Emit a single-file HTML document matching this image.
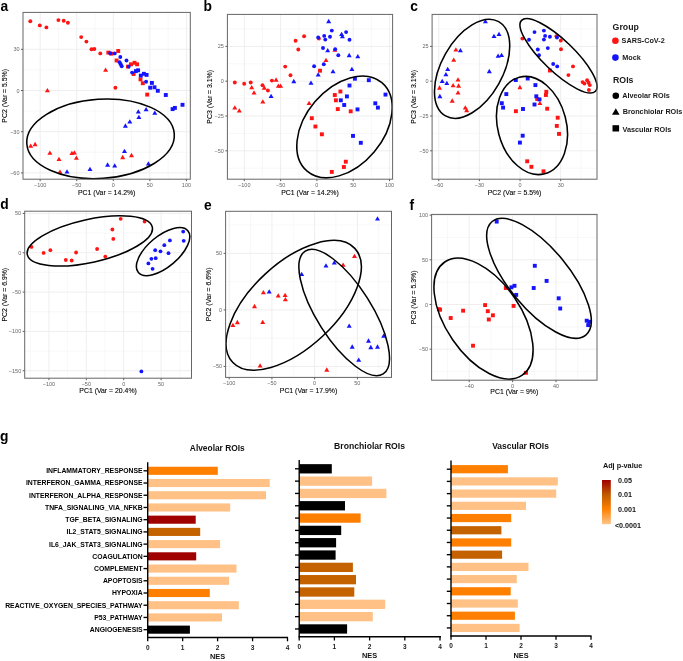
<!DOCTYPE html><html><head><meta charset="utf-8"><style>html,body{margin:0;padding:0;background:#fff;width:683px;height:661px;overflow:hidden}svg{display:block;will-change:transform;filter:blur(0.3px)}text{font-family:"Liberation Sans",sans-serif}.tk{font-size:5.5px;fill:#666}.at{font-size:6.9px;fill:#000;stroke:#000;stroke-width:0.1px}.pl{font-size:13.8px;font-weight:bold;fill:#000}.lg{font-size:7.25px;font-weight:bold;fill:#1a1a1a}.lt{font-size:8.75px;font-weight:bold;fill:#1a1a1a}.bl{font-size:6.85px;font-weight:bold;fill:#000}.bt{font-size:8.3px;font-weight:bold;fill:#111}.bx{font-size:6.5px;font-weight:bold;fill:#1a1a1a}</style></head><body>
<svg width="683" height="661" viewBox="0 0 683 661">
<g>
<line x1="58.44" y1="12.4" x2="58.44" y2="179.2" stroke="#f5f5f5" stroke-width="0.7"/>
<line x1="95.01" y1="12.4" x2="95.01" y2="179.2" stroke="#f5f5f5" stroke-width="0.7"/>
<line x1="131.59" y1="12.4" x2="131.59" y2="179.2" stroke="#f5f5f5" stroke-width="0.7"/>
<line x1="168.16" y1="12.4" x2="168.16" y2="179.2" stroke="#f5f5f5" stroke-width="0.7"/>
<line x1="23" y1="28.7" x2="190.3" y2="28.7" stroke="#f5f5f5" stroke-width="0.7"/>
<line x1="23" y1="69.9" x2="190.3" y2="69.9" stroke="#f5f5f5" stroke-width="0.7"/>
<line x1="23" y1="111.1" x2="190.3" y2="111.1" stroke="#f5f5f5" stroke-width="0.7"/>
<line x1="23" y1="152.3" x2="190.3" y2="152.3" stroke="#f5f5f5" stroke-width="0.7"/>
<line x1="40.15" y1="12.4" x2="40.15" y2="179.2" stroke="#eeeeee" stroke-width="1"/>
<line x1="76.72" y1="12.4" x2="76.72" y2="179.2" stroke="#eeeeee" stroke-width="1"/>
<line x1="113.3" y1="12.4" x2="113.3" y2="179.2" stroke="#eeeeee" stroke-width="1"/>
<line x1="149.88" y1="12.4" x2="149.88" y2="179.2" stroke="#eeeeee" stroke-width="1"/>
<line x1="186.45" y1="12.4" x2="186.45" y2="179.2" stroke="#eeeeee" stroke-width="1"/>
<line x1="23" y1="49.3" x2="190.3" y2="49.3" stroke="#eeeeee" stroke-width="1"/>
<line x1="23" y1="90.5" x2="190.3" y2="90.5" stroke="#eeeeee" stroke-width="1"/>
<line x1="23" y1="131.7" x2="190.3" y2="131.7" stroke="#eeeeee" stroke-width="1"/>
<line x1="23" y1="172.9" x2="190.3" y2="172.9" stroke="#eeeeee" stroke-width="1"/>
</g>
<line x1="40.15" y1="179.2" x2="40.15" y2="181.2" stroke="#333" stroke-width="0.8"/>
<text x="40.15" y="187.2" class="tk" text-anchor="middle">−100</text>
<line x1="76.72" y1="179.2" x2="76.72" y2="181.2" stroke="#333" stroke-width="0.8"/>
<text x="76.72" y="187.2" class="tk" text-anchor="middle">−50</text>
<line x1="113.3" y1="179.2" x2="113.3" y2="181.2" stroke="#333" stroke-width="0.8"/>
<text x="113.3" y="187.2" class="tk" text-anchor="middle">0</text>
<line x1="149.88" y1="179.2" x2="149.88" y2="181.2" stroke="#333" stroke-width="0.8"/>
<text x="149.88" y="187.2" class="tk" text-anchor="middle">50</text>
<line x1="186.45" y1="179.2" x2="186.45" y2="181.2" stroke="#333" stroke-width="0.8"/>
<text x="186.45" y="187.2" class="tk" text-anchor="middle">100</text>
<line x1="21" y1="49.3" x2="23" y2="49.3" stroke="#333" stroke-width="0.8"/>
<text x="19.5" y="51.3" class="tk" text-anchor="end">30</text>
<line x1="21" y1="90.5" x2="23" y2="90.5" stroke="#333" stroke-width="0.8"/>
<text x="19.5" y="92.5" class="tk" text-anchor="end">0</text>
<line x1="21" y1="131.7" x2="23" y2="131.7" stroke="#333" stroke-width="0.8"/>
<text x="19.5" y="133.7" class="tk" text-anchor="end">−30</text>
<line x1="21" y1="172.9" x2="23" y2="172.9" stroke="#333" stroke-width="0.8"/>
<text x="19.5" y="174.9" class="tk" text-anchor="end">−60</text>
<text x="106.65" y="194.6" class="at" text-anchor="middle">PC1 (Var = 14.2%)</text>
<text transform="translate(7.1 95.8) rotate(-90)" class="at" text-anchor="middle">PC2 (Var = 5.5%)</text>
<text x="0.5" y="10.9" class="pl">a</text>
<circle cx="30.3" cy="21.2" r="1.95" fill="#ff1414"/>
<circle cx="39.8" cy="25.4" r="1.95" fill="#ff1414"/>
<circle cx="46.4" cy="27.4" r="1.95" fill="#ff1414"/>
<circle cx="58.4" cy="20.1" r="1.95" fill="#ff1414"/>
<circle cx="63.7" cy="20.7" r="1.95" fill="#ff1414"/>
<circle cx="67.9" cy="22.7" r="1.95" fill="#ff1414"/>
<circle cx="81.2" cy="37.1" r="1.95" fill="#ff1414"/>
<circle cx="86.4" cy="41.6" r="1.95" fill="#ff1414"/>
<circle cx="91.5" cy="49.3" r="1.95" fill="#ff1414"/>
<circle cx="94.3" cy="49" r="1.95" fill="#ff1414"/>
<circle cx="100.3" cy="53.4" r="1.95" fill="#ff1414"/>
<path d="M47.4 87.94L49.9 92.23L44.9 92.23Z" fill="#ff1414"/>
<path d="M105.6 67.54L108.1 71.84L103.1 71.84Z" fill="#ff1414"/>
<circle cx="115.4" cy="87.7" r="1.95" fill="#ff1414"/>
<rect x="106.35" y="50.65" width="3.9" height="3.9" fill="#ff1414"/>
<rect x="109.35" y="51.75" width="3.9" height="3.9" fill="#ff1414"/>
<rect x="116.25" y="49.05" width="3.9" height="3.9" fill="#ff1414"/>
<rect x="114.65" y="58.55" width="3.9" height="3.9" fill="#ff1414"/>
<rect x="126.05" y="64.65" width="3.9" height="3.9" fill="#ff1414"/>
<rect x="129.05" y="62.35" width="3.9" height="3.9" fill="#ff1414"/>
<rect x="132.55" y="60.85" width="3.9" height="3.9" fill="#ff1414"/>
<rect x="135.15" y="62.35" width="3.9" height="3.9" fill="#ff1414"/>
<rect x="131.65" y="72.05" width="3.9" height="3.9" fill="#ff1414"/>
<rect x="138.55" y="77.45" width="3.9" height="3.9" fill="#ff1414"/>
<rect x="140.85" y="81.25" width="3.9" height="3.9" fill="#ff1414"/>
<rect x="145.25" y="92.65" width="3.9" height="3.9" fill="#ff1414"/>
<path d="M30.7 143.44L33.2 147.74L28.2 147.74Z" fill="#ff1414"/>
<path d="M35.1 141.83L37.6 146.13L32.6 146.13Z" fill="#ff1414"/>
<path d="M49.9 150.44L52.4 154.74L47.4 154.74Z" fill="#ff1414"/>
<path d="M59 156.63L61.5 160.94L56.5 160.94Z" fill="#ff1414"/>
<path d="M71.9 150.63L74.4 154.94L69.4 154.94Z" fill="#ff1414"/>
<path d="M74.4 150.13L76.9 154.44L71.9 154.44Z" fill="#ff1414"/>
<path d="M76.4 155.53L78.9 159.84L73.9 159.84Z" fill="#ff1414"/>
<path d="M60 169.53L62.5 173.84L57.5 173.84Z" fill="#ff1414"/>
<path d="M122.7 154.83L125.2 159.13L120.2 159.13Z" fill="#ff1414"/>
<path d="M131.5 152.83L134 157.13L129 157.13Z" fill="#ff1414"/>
<circle cx="110.3" cy="53.3" r="1.95" fill="#1414ff"/>
<circle cx="114.7" cy="53.4" r="1.95" fill="#1414ff"/>
<circle cx="120.3" cy="57" r="1.95" fill="#1414ff"/>
<circle cx="119.6" cy="62.3" r="1.95" fill="#1414ff"/>
<circle cx="120.7" cy="64.3" r="1.95" fill="#1414ff"/>
<circle cx="121.7" cy="66.3" r="1.95" fill="#1414ff"/>
<circle cx="126.5" cy="60.5" r="1.95" fill="#1414ff"/>
<circle cx="128.7" cy="66.6" r="1.95" fill="#1414ff"/>
<circle cx="132.1" cy="72.6" r="1.95" fill="#1414ff"/>
<rect x="133.95" y="69.15" width="3.9" height="3.9" fill="#1414ff"/>
<rect x="136.15" y="68.35" width="3.9" height="3.9" fill="#1414ff"/>
<rect x="138.85" y="73.65" width="3.9" height="3.9" fill="#1414ff"/>
<rect x="141.95" y="71.85" width="3.9" height="3.9" fill="#1414ff"/>
<rect x="144.65" y="72.95" width="3.9" height="3.9" fill="#1414ff"/>
<circle cx="146.1" cy="81.7" r="1.95" fill="#1414ff"/>
<rect x="149.95" y="80.95" width="3.9" height="3.9" fill="#1414ff"/>
<rect x="148.25" y="85.75" width="3.9" height="3.9" fill="#1414ff"/>
<rect x="152.55" y="85.35" width="3.9" height="3.9" fill="#1414ff"/>
<rect x="155.85" y="88.85" width="3.9" height="3.9" fill="#1414ff"/>
<rect x="163.85" y="93.05" width="3.9" height="3.9" fill="#1414ff"/>
<path d="M67 169.23L69.5 173.53L64.5 173.53Z" fill="#1414ff"/>
<path d="M90 166.73L92.5 171.03L87.5 171.03Z" fill="#1414ff"/>
<rect x="170.65" y="107.15" width="3.9" height="3.9" fill="#1414ff"/>
<rect x="172.95" y="105.95" width="3.9" height="3.9" fill="#1414ff"/>
<rect x="180.55" y="102.85" width="3.9" height="3.9" fill="#1414ff"/>
<path d="M138.3 109.23L140.8 113.53L135.8 113.53Z" fill="#1414ff"/>
<path d="M146.1 107.04L148.6 111.34L143.6 111.34Z" fill="#1414ff"/>
<path d="M154.8 110.54L157.3 114.84L152.3 114.84Z" fill="#1414ff"/>
<path d="M138.9 114.73L141.4 119.03L136.4 119.03Z" fill="#1414ff"/>
<path d="M129.8 119.23L132.3 123.53L127.3 123.53Z" fill="#1414ff"/>
<path d="M125.4 123.34L127.9 127.64L122.9 127.64Z" fill="#1414ff"/>
<path d="M124.5 148.63L127 152.94L122 152.94Z" fill="#1414ff"/>
<path d="M107.6 162.33L110.1 166.63L105.1 166.63Z" fill="#1414ff"/>
<path d="M114.7 163.13L117.2 167.44L112.2 167.44Z" fill="#1414ff"/>
<path d="M148.4 161.13L150.9 165.44L145.9 165.44Z" fill="#1414ff"/>
<ellipse cx="100.55" cy="138.8" rx="73.9" ry="39.6" transform="rotate(-3.8 100.55 138.8)" fill="none" stroke="#000" stroke-width="1.55"/>
<rect x="23" y="12.4" width="167.3" height="166.8" fill="none" stroke="#666666" stroke-width="1"/>
<g>
<line x1="262.45" y1="14.4" x2="262.45" y2="179.2" stroke="#f5f5f5" stroke-width="0.7"/>
<line x1="298.75" y1="14.4" x2="298.75" y2="179.2" stroke="#f5f5f5" stroke-width="0.7"/>
<line x1="335.05" y1="14.4" x2="335.05" y2="179.2" stroke="#f5f5f5" stroke-width="0.7"/>
<line x1="371.35" y1="14.4" x2="371.35" y2="179.2" stroke="#f5f5f5" stroke-width="0.7"/>
<line x1="227.4" y1="29" x2="392.6" y2="29" stroke="#f5f5f5" stroke-width="0.7"/>
<line x1="227.4" y1="63.8" x2="392.6" y2="63.8" stroke="#f5f5f5" stroke-width="0.7"/>
<line x1="227.4" y1="98.6" x2="392.6" y2="98.6" stroke="#f5f5f5" stroke-width="0.7"/>
<line x1="227.4" y1="133.4" x2="392.6" y2="133.4" stroke="#f5f5f5" stroke-width="0.7"/>
<line x1="227.4" y1="168.2" x2="392.6" y2="168.2" stroke="#f5f5f5" stroke-width="0.7"/>
<line x1="244.3" y1="14.4" x2="244.3" y2="179.2" stroke="#eeeeee" stroke-width="1"/>
<line x1="280.6" y1="14.4" x2="280.6" y2="179.2" stroke="#eeeeee" stroke-width="1"/>
<line x1="316.9" y1="14.4" x2="316.9" y2="179.2" stroke="#eeeeee" stroke-width="1"/>
<line x1="353.2" y1="14.4" x2="353.2" y2="179.2" stroke="#eeeeee" stroke-width="1"/>
<line x1="389.5" y1="14.4" x2="389.5" y2="179.2" stroke="#eeeeee" stroke-width="1"/>
<line x1="227.4" y1="46.4" x2="392.6" y2="46.4" stroke="#eeeeee" stroke-width="1"/>
<line x1="227.4" y1="81.2" x2="392.6" y2="81.2" stroke="#eeeeee" stroke-width="1"/>
<line x1="227.4" y1="116" x2="392.6" y2="116" stroke="#eeeeee" stroke-width="1"/>
<line x1="227.4" y1="150.8" x2="392.6" y2="150.8" stroke="#eeeeee" stroke-width="1"/>
</g>
<line x1="244.3" y1="179.2" x2="244.3" y2="181.2" stroke="#333" stroke-width="0.8"/>
<text x="244.3" y="187.2" class="tk" text-anchor="middle">−100</text>
<line x1="280.6" y1="179.2" x2="280.6" y2="181.2" stroke="#333" stroke-width="0.8"/>
<text x="280.6" y="187.2" class="tk" text-anchor="middle">−50</text>
<line x1="316.9" y1="179.2" x2="316.9" y2="181.2" stroke="#333" stroke-width="0.8"/>
<text x="316.9" y="187.2" class="tk" text-anchor="middle">0</text>
<line x1="353.2" y1="179.2" x2="353.2" y2="181.2" stroke="#333" stroke-width="0.8"/>
<text x="353.2" y="187.2" class="tk" text-anchor="middle">50</text>
<line x1="389.5" y1="179.2" x2="389.5" y2="181.2" stroke="#333" stroke-width="0.8"/>
<text x="389.5" y="187.2" class="tk" text-anchor="middle">100</text>
<line x1="225.4" y1="46.4" x2="227.4" y2="46.4" stroke="#333" stroke-width="0.8"/>
<text x="223.9" y="48.4" class="tk" text-anchor="end">25</text>
<line x1="225.4" y1="81.2" x2="227.4" y2="81.2" stroke="#333" stroke-width="0.8"/>
<text x="223.9" y="83.2" class="tk" text-anchor="end">0</text>
<line x1="225.4" y1="116" x2="227.4" y2="116" stroke="#333" stroke-width="0.8"/>
<text x="223.9" y="118" class="tk" text-anchor="end">−25</text>
<line x1="225.4" y1="150.8" x2="227.4" y2="150.8" stroke="#333" stroke-width="0.8"/>
<text x="223.9" y="152.8" class="tk" text-anchor="end">−50</text>
<text x="310" y="194.6" class="at" text-anchor="middle">PC1 (Var = 14.2%)</text>
<text transform="translate(211.6 96.8) rotate(-90)" class="at" text-anchor="middle">PC3 (Var = 3.1%)</text>
<text x="203.4" y="10.9" class="pl">b</text>
<circle cx="234.8" cy="82.5" r="1.95" fill="#ff1414"/>
<circle cx="244.2" cy="83.7" r="1.95" fill="#ff1414"/>
<circle cx="250.7" cy="82.5" r="1.95" fill="#ff1414"/>
<path d="M251.7 84.94L254.2 89.23L249.2 89.23Z" fill="#ff1414"/>
<path d="M254 90.23L256.5 94.53L251.5 94.53Z" fill="#ff1414"/>
<circle cx="262.5" cy="85.2" r="1.95" fill="#ff1414"/>
<path d="M264.3 85.34L266.8 89.64L261.8 89.64Z" fill="#ff1414"/>
<circle cx="267.9" cy="90.5" r="1.95" fill="#ff1414"/>
<circle cx="271.9" cy="80.6" r="1.95" fill="#ff1414"/>
<path d="M276.1 77.34L278.6 81.64L273.6 81.64Z" fill="#ff1414"/>
<path d="M278.4 83.54L280.9 87.84L275.9 87.84Z" fill="#ff1414"/>
<path d="M280.6 83.54L283.1 87.84L278.1 87.84Z" fill="#ff1414"/>
<circle cx="285.2" cy="66.6" r="1.95" fill="#ff1414"/>
<circle cx="290.5" cy="75.2" r="1.95" fill="#ff1414"/>
<circle cx="295.6" cy="40.8" r="1.95" fill="#ff1414"/>
<circle cx="298.3" cy="49.5" r="1.95" fill="#ff1414"/>
<circle cx="304.1" cy="36.3" r="1.95" fill="#ff1414"/>
<circle cx="318.9" cy="38.6" r="1.95" fill="#ff1414"/>
<path d="M334.8 47.53L337.3 51.84L332.3 51.84Z" fill="#ff1414"/>
<path d="M326 57.73L328.5 62.04L323.5 62.04Z" fill="#ff1414"/>
<rect x="318.05" y="68.75" width="3.9" height="3.9" fill="#ff1414"/>
<rect x="338.45" y="89.55" width="3.9" height="3.9" fill="#ff1414"/>
<rect x="332.85" y="93.05" width="3.9" height="3.9" fill="#ff1414"/>
<path d="M234.8 105.23L237.3 109.53L232.3 109.53Z" fill="#ff1414"/>
<path d="M239.3 108.23L241.8 112.53L236.8 112.53Z" fill="#ff1414"/>
<path d="M262.8 99.14L265.3 103.44L260.3 103.44Z" fill="#ff1414"/>
<path d="M309.1 100.64L311.6 104.94L306.6 104.94Z" fill="#ff1414"/>
<rect x="333.95" y="98.35" width="3.9" height="3.9" fill="#ff1414"/>
<rect x="335.85" y="107.15" width="3.9" height="3.9" fill="#ff1414"/>
<rect x="348.75" y="109.35" width="3.9" height="3.9" fill="#ff1414"/>
<rect x="309.85" y="116.25" width="3.9" height="3.9" fill="#ff1414"/>
<rect x="313.45" y="124.55" width="3.9" height="3.9" fill="#ff1414"/>
<rect x="319.95" y="132.35" width="3.9" height="3.9" fill="#ff1414"/>
<rect x="343.85" y="159.75" width="3.9" height="3.9" fill="#ff1414"/>
<rect x="341.95" y="165.05" width="3.9" height="3.9" fill="#ff1414"/>
<rect x="329.85" y="169.95" width="3.9" height="3.9" fill="#ff1414"/>
<path d="M271.1 93.73L273.6 98.03L268.6 98.03Z" fill="#1414ff"/>
<path d="M293.8 78.84L296.3 83.14L291.3 83.14Z" fill="#1414ff"/>
<circle cx="318.2" cy="37.5" r="1.95" fill="#1414ff"/>
<path d="M328.7 18.84L331.2 23.13L326.2 23.13Z" fill="#1414ff"/>
<circle cx="331.8" cy="30.6" r="1.95" fill="#1414ff"/>
<circle cx="324.2" cy="35.9" r="1.95" fill="#1414ff"/>
<circle cx="325.3" cy="39.6" r="1.95" fill="#1414ff"/>
<circle cx="330" cy="36.8" r="1.95" fill="#1414ff"/>
<path d="M341.6 31.63L344.1 35.94L339.1 35.94Z" fill="#1414ff"/>
<path d="M342.4 33.93L344.9 38.23L339.9 38.23Z" fill="#1414ff"/>
<circle cx="346.1" cy="32.1" r="1.95" fill="#1414ff"/>
<circle cx="349.5" cy="39.8" r="1.95" fill="#1414ff"/>
<circle cx="323" cy="48" r="1.95" fill="#1414ff"/>
<path d="M327.7 48.03L330.2 52.34L325.2 52.34Z" fill="#1414ff"/>
<circle cx="335.2" cy="49.2" r="1.95" fill="#1414ff"/>
<circle cx="338.3" cy="55.2" r="1.95" fill="#1414ff"/>
<path d="M349.2 52.84L351.7 57.14L346.7 57.14Z" fill="#1414ff"/>
<path d="M357.8 53.93L360.3 58.23L355.3 58.23Z" fill="#1414ff"/>
<circle cx="314.1" cy="66.3" r="1.95" fill="#1414ff"/>
<circle cx="323.8" cy="64.3" r="1.95" fill="#1414ff"/>
<path d="M318.2 72.23L320.7 76.53L315.7 76.53Z" fill="#1414ff"/>
<path d="M333 69.04L335.5 73.34L330.5 73.34Z" fill="#1414ff"/>
<path d="M351.9 66.73L354.4 71.03L349.4 71.03Z" fill="#1414ff"/>
<path d="M311 80.54L313.5 84.84L308.5 84.84Z" fill="#1414ff"/>
<rect x="352.95" y="76.75" width="3.9" height="3.9" fill="#1414ff"/>
<rect x="366.85" y="78.25" width="3.9" height="3.9" fill="#1414ff"/>
<rect x="347.55" y="83.55" width="3.9" height="3.9" fill="#1414ff"/>
<rect x="344.95" y="94.45" width="3.9" height="3.9" fill="#1414ff"/>
<rect x="383.55" y="92.65" width="3.9" height="3.9" fill="#1414ff"/>
<rect x="338.85" y="98.35" width="3.9" height="3.9" fill="#1414ff"/>
<rect x="342.25" y="103.05" width="3.9" height="3.9" fill="#1414ff"/>
<rect x="355.55" y="107.45" width="3.9" height="3.9" fill="#1414ff"/>
<rect x="373.35" y="101.35" width="3.9" height="3.9" fill="#1414ff"/>
<rect x="375.95" y="105.65" width="3.9" height="3.9" fill="#1414ff"/>
<rect x="351.05" y="133.95" width="3.9" height="3.9" fill="#1414ff"/>
<rect x="358.85" y="140.85" width="3.9" height="3.9" fill="#1414ff"/>
<ellipse cx="344.5" cy="126.9" rx="57.9" ry="38.8" transform="rotate(-49.8 344.5 126.9)" fill="none" stroke="#000" stroke-width="1.55"/>
<rect x="227.4" y="14.4" width="165.2" height="164.8" fill="none" stroke="#666666" stroke-width="1"/>
<g>
<line x1="459.05" y1="14.4" x2="459.05" y2="179.2" stroke="#f5f5f5" stroke-width="0.7"/>
<line x1="499.72" y1="14.4" x2="499.72" y2="179.2" stroke="#f5f5f5" stroke-width="0.7"/>
<line x1="540.38" y1="14.4" x2="540.38" y2="179.2" stroke="#f5f5f5" stroke-width="0.7"/>
<line x1="581.05" y1="14.4" x2="581.05" y2="179.2" stroke="#f5f5f5" stroke-width="0.7"/>
<line x1="432.1" y1="29" x2="597" y2="29" stroke="#f5f5f5" stroke-width="0.7"/>
<line x1="432.1" y1="63.8" x2="597" y2="63.8" stroke="#f5f5f5" stroke-width="0.7"/>
<line x1="432.1" y1="98.6" x2="597" y2="98.6" stroke="#f5f5f5" stroke-width="0.7"/>
<line x1="432.1" y1="133.4" x2="597" y2="133.4" stroke="#f5f5f5" stroke-width="0.7"/>
<line x1="432.1" y1="168.2" x2="597" y2="168.2" stroke="#f5f5f5" stroke-width="0.7"/>
<line x1="438.72" y1="14.4" x2="438.72" y2="179.2" stroke="#eeeeee" stroke-width="1"/>
<line x1="479.38" y1="14.4" x2="479.38" y2="179.2" stroke="#eeeeee" stroke-width="1"/>
<line x1="520.05" y1="14.4" x2="520.05" y2="179.2" stroke="#eeeeee" stroke-width="1"/>
<line x1="560.71" y1="14.4" x2="560.71" y2="179.2" stroke="#eeeeee" stroke-width="1"/>
<line x1="432.1" y1="46.4" x2="597" y2="46.4" stroke="#eeeeee" stroke-width="1"/>
<line x1="432.1" y1="81.2" x2="597" y2="81.2" stroke="#eeeeee" stroke-width="1"/>
<line x1="432.1" y1="116" x2="597" y2="116" stroke="#eeeeee" stroke-width="1"/>
<line x1="432.1" y1="150.8" x2="597" y2="150.8" stroke="#eeeeee" stroke-width="1"/>
</g>
<line x1="438.72" y1="179.2" x2="438.72" y2="181.2" stroke="#333" stroke-width="0.8"/>
<text x="438.72" y="187.2" class="tk" text-anchor="middle">−60</text>
<line x1="479.38" y1="179.2" x2="479.38" y2="181.2" stroke="#333" stroke-width="0.8"/>
<text x="479.38" y="187.2" class="tk" text-anchor="middle">−30</text>
<line x1="520.05" y1="179.2" x2="520.05" y2="181.2" stroke="#333" stroke-width="0.8"/>
<text x="520.05" y="187.2" class="tk" text-anchor="middle">0</text>
<line x1="560.71" y1="179.2" x2="560.71" y2="181.2" stroke="#333" stroke-width="0.8"/>
<text x="560.71" y="187.2" class="tk" text-anchor="middle">30</text>
<line x1="430.1" y1="46.4" x2="432.1" y2="46.4" stroke="#333" stroke-width="0.8"/>
<text x="428.6" y="48.4" class="tk" text-anchor="end">25</text>
<line x1="430.1" y1="81.2" x2="432.1" y2="81.2" stroke="#333" stroke-width="0.8"/>
<text x="428.6" y="83.2" class="tk" text-anchor="end">0</text>
<line x1="430.1" y1="116" x2="432.1" y2="116" stroke="#333" stroke-width="0.8"/>
<text x="428.6" y="118" class="tk" text-anchor="end">−25</text>
<line x1="430.1" y1="150.8" x2="432.1" y2="150.8" stroke="#333" stroke-width="0.8"/>
<text x="428.6" y="152.8" class="tk" text-anchor="end">−50</text>
<text x="514.55" y="194.6" class="at" text-anchor="middle">PC2 (Var = 5.5%)</text>
<text transform="translate(416.4 96.8) rotate(-90)" class="at" text-anchor="middle">PC3 (Var = 3.1%)</text>
<text x="410.2" y="10.9" class="pl">c</text>
<path d="M455.9 47.23L458.4 51.54L453.4 51.54Z" fill="#ff1414"/>
<path d="M453.7 57.53L456.2 61.84L451.2 61.84Z" fill="#ff1414"/>
<path d="M458 77.14L460.5 81.44L455.5 81.44Z" fill="#ff1414"/>
<path d="M453.1 82.94L455.6 87.23L450.6 87.23Z" fill="#ff1414"/>
<path d="M458.6 83.34L461.1 87.64L456.1 87.64Z" fill="#ff1414"/>
<path d="M439.5 85.34L442 89.64L437 89.64Z" fill="#ff1414"/>
<path d="M458 90.23L460.5 94.53L455.5 94.53Z" fill="#ff1414"/>
<path d="M452.2 98.34L454.7 102.64L449.7 102.64Z" fill="#ff1414"/>
<path d="M465.3 105.14L467.8 109.44L462.8 109.44Z" fill="#ff1414"/>
<path d="M466.7 107.84L469.2 112.14L464.2 112.14Z" fill="#ff1414"/>
<circle cx="522.4" cy="38.6" r="1.95" fill="#ff1414"/>
<circle cx="556.4" cy="36.3" r="1.95" fill="#ff1414"/>
<circle cx="560.8" cy="40.5" r="1.95" fill="#ff1414"/>
<circle cx="561" cy="49.2" r="1.95" fill="#ff1414"/>
<circle cx="573" cy="66.4" r="1.95" fill="#ff1414"/>
<rect x="547.95" y="68.55" width="3.9" height="3.9" fill="#ff1414"/>
<circle cx="568.4" cy="75.1" r="1.95" fill="#ff1414"/>
<circle cx="582.6" cy="82.1" r="1.95" fill="#ff1414"/>
<circle cx="584.4" cy="83.6" r="1.95" fill="#ff1414"/>
<circle cx="587.1" cy="80.3" r="1.95" fill="#ff1414"/>
<circle cx="588.6" cy="82.7" r="1.95" fill="#ff1414"/>
<circle cx="589.8" cy="85.1" r="1.95" fill="#ff1414"/>
<circle cx="588.9" cy="90" r="1.95" fill="#ff1414"/>
<path d="M519.9 84.84L522.4 89.14L517.4 89.14Z" fill="#ff1414"/>
<rect x="544.35" y="89.85" width="3.9" height="3.9" fill="#ff1414"/>
<rect x="543.95" y="93.05" width="3.9" height="3.9" fill="#ff1414"/>
<rect x="535.25" y="97.05" width="3.9" height="3.9" fill="#ff1414"/>
<path d="M539.9 100.64L542.4 104.94L537.4 104.94Z" fill="#ff1414"/>
<rect x="513.95" y="109.25" width="3.9" height="3.9" fill="#ff1414"/>
<rect x="545.25" y="106.75" width="3.9" height="3.9" fill="#ff1414"/>
<rect x="555.75" y="115.75" width="3.9" height="3.9" fill="#ff1414"/>
<rect x="554.85" y="123.95" width="3.9" height="3.9" fill="#ff1414"/>
<rect x="557.05" y="131.95" width="3.9" height="3.9" fill="#ff1414"/>
<rect x="525.25" y="159.35" width="3.9" height="3.9" fill="#ff1414"/>
<rect x="529.45" y="164.85" width="3.9" height="3.9" fill="#ff1414"/>
<rect x="541.55" y="169.35" width="3.9" height="3.9" fill="#ff1414"/>
<path d="M485.4 18.94L487.9 23.23L482.9 23.23Z" fill="#1414ff"/>
<path d="M494 33.63L496.5 37.94L491.5 37.94Z" fill="#1414ff"/>
<path d="M499 31.73L501.5 36.04L496.5 36.04Z" fill="#1414ff"/>
<path d="M460.4 47.93L462.9 52.23L457.9 52.23Z" fill="#1414ff"/>
<path d="M498.1 53.53L500.6 57.84L495.6 57.84Z" fill="#1414ff"/>
<path d="M501.6 52.63L504.1 56.94L499.1 56.94Z" fill="#1414ff"/>
<path d="M489.3 68.84L491.8 73.14L486.8 73.14Z" fill="#1414ff"/>
<path d="M447.7 66.64L450.2 70.94L445.2 70.94Z" fill="#1414ff"/>
<path d="M445.9 72.04L448.4 76.34L443.4 76.34Z" fill="#1414ff"/>
<path d="M442.2 78.73L444.7 83.03L439.7 83.03Z" fill="#1414ff"/>
<path d="M446.8 80.64L449.3 84.94L444.3 84.94Z" fill="#1414ff"/>
<path d="M439.9 93.84L442.4 98.14L437.4 98.14Z" fill="#1414ff"/>
<circle cx="534.5" cy="32.1" r="1.95" fill="#1414ff"/>
<circle cx="529" cy="39.8" r="1.95" fill="#1414ff"/>
<circle cx="543.9" cy="30.6" r="1.95" fill="#1414ff"/>
<circle cx="545.1" cy="35.9" r="1.95" fill="#1414ff"/>
<circle cx="543.9" cy="39.6" r="1.95" fill="#1414ff"/>
<circle cx="549.9" cy="36.8" r="1.95" fill="#1414ff"/>
<circle cx="557" cy="37.5" r="1.95" fill="#1414ff"/>
<circle cx="537.8" cy="49.5" r="1.95" fill="#1414ff"/>
<circle cx="547.8" cy="48.1" r="1.95" fill="#1414ff"/>
<circle cx="539" cy="55.2" r="1.95" fill="#1414ff"/>
<circle cx="553.2" cy="64" r="1.95" fill="#1414ff"/>
<circle cx="557.2" cy="66.4" r="1.95" fill="#1414ff"/>
<rect x="513.85" y="78.05" width="3.9" height="3.9" fill="#1414ff"/>
<rect x="525.75" y="76.55" width="3.9" height="3.9" fill="#1414ff"/>
<rect x="533.45" y="83.15" width="3.9" height="3.9" fill="#1414ff"/>
<rect x="504.35" y="92.15" width="3.9" height="3.9" fill="#1414ff"/>
<rect x="534.35" y="94.35" width="3.9" height="3.9" fill="#1414ff"/>
<rect x="537.55" y="97.45" width="3.9" height="3.9" fill="#1414ff"/>
<rect x="532.55" y="102.55" width="3.9" height="3.9" fill="#1414ff"/>
<rect x="499.85" y="101.25" width="3.9" height="3.9" fill="#1414ff"/>
<rect x="501.15" y="105.65" width="3.9" height="3.9" fill="#1414ff"/>
<rect x="521.05" y="107.05" width="3.9" height="3.9" fill="#1414ff"/>
<rect x="520.75" y="133.75" width="3.9" height="3.9" fill="#1414ff"/>
<rect x="517.95" y="140.65" width="3.9" height="3.9" fill="#1414ff"/>
<ellipse cx="472.1" cy="68.8" rx="54.1" ry="30.6" transform="rotate(-60.6 472.1 68.8)" fill="none" stroke="#000" stroke-width="1.55"/>
<ellipse cx="558.5" cy="55.8" rx="51.2" ry="15.6" transform="rotate(43.8 558.5 55.8)" fill="none" stroke="#000" stroke-width="1.55"/>
<ellipse cx="532" cy="125.5" rx="49.9" ry="34.3" transform="rotate(75.3 532 125.5)" fill="none" stroke="#000" stroke-width="1.55"/>
<rect x="432.1" y="14.4" width="164.9" height="164.8" fill="none" stroke="#666666" stroke-width="1"/>
<g>
<line x1="30.26" y1="211.2" x2="30.26" y2="378.2" stroke="#f5f5f5" stroke-width="0.7"/>
<line x1="67.64" y1="211.2" x2="67.64" y2="378.2" stroke="#f5f5f5" stroke-width="0.7"/>
<line x1="105.01" y1="211.2" x2="105.01" y2="378.2" stroke="#f5f5f5" stroke-width="0.7"/>
<line x1="142.39" y1="211.2" x2="142.39" y2="378.2" stroke="#f5f5f5" stroke-width="0.7"/>
<line x1="179.76" y1="211.2" x2="179.76" y2="378.2" stroke="#f5f5f5" stroke-width="0.7"/>
<line x1="24.7" y1="233.09" x2="191.5" y2="233.09" stroke="#f5f5f5" stroke-width="0.7"/>
<line x1="24.7" y1="272.41" x2="191.5" y2="272.41" stroke="#f5f5f5" stroke-width="0.7"/>
<line x1="24.7" y1="311.74" x2="191.5" y2="311.74" stroke="#f5f5f5" stroke-width="0.7"/>
<line x1="24.7" y1="351.06" x2="191.5" y2="351.06" stroke="#f5f5f5" stroke-width="0.7"/>
<line x1="48.95" y1="211.2" x2="48.95" y2="378.2" stroke="#eeeeee" stroke-width="1"/>
<line x1="86.33" y1="211.2" x2="86.33" y2="378.2" stroke="#eeeeee" stroke-width="1"/>
<line x1="123.7" y1="211.2" x2="123.7" y2="378.2" stroke="#eeeeee" stroke-width="1"/>
<line x1="161.07" y1="211.2" x2="161.07" y2="378.2" stroke="#eeeeee" stroke-width="1"/>
<line x1="24.7" y1="213.43" x2="191.5" y2="213.43" stroke="#eeeeee" stroke-width="1"/>
<line x1="24.7" y1="252.75" x2="191.5" y2="252.75" stroke="#eeeeee" stroke-width="1"/>
<line x1="24.7" y1="292.07" x2="191.5" y2="292.07" stroke="#eeeeee" stroke-width="1"/>
<line x1="24.7" y1="331.4" x2="191.5" y2="331.4" stroke="#eeeeee" stroke-width="1"/>
<line x1="24.7" y1="370.73" x2="191.5" y2="370.73" stroke="#eeeeee" stroke-width="1"/>
</g>
<line x1="48.95" y1="378.2" x2="48.95" y2="380.2" stroke="#333" stroke-width="0.8"/>
<text x="48.95" y="386.2" class="tk" text-anchor="middle">−100</text>
<line x1="86.33" y1="378.2" x2="86.33" y2="380.2" stroke="#333" stroke-width="0.8"/>
<text x="86.33" y="386.2" class="tk" text-anchor="middle">−50</text>
<line x1="123.7" y1="378.2" x2="123.7" y2="380.2" stroke="#333" stroke-width="0.8"/>
<text x="123.7" y="386.2" class="tk" text-anchor="middle">0</text>
<line x1="161.07" y1="378.2" x2="161.07" y2="380.2" stroke="#333" stroke-width="0.8"/>
<text x="161.07" y="386.2" class="tk" text-anchor="middle">50</text>
<line x1="22.7" y1="213.43" x2="24.7" y2="213.43" stroke="#333" stroke-width="0.8"/>
<text x="21.2" y="215.43" class="tk" text-anchor="end">50</text>
<line x1="22.7" y1="252.75" x2="24.7" y2="252.75" stroke="#333" stroke-width="0.8"/>
<text x="21.2" y="254.75" class="tk" text-anchor="end">0</text>
<line x1="22.7" y1="292.07" x2="24.7" y2="292.07" stroke="#333" stroke-width="0.8"/>
<text x="21.2" y="294.07" class="tk" text-anchor="end">−50</text>
<line x1="22.7" y1="331.4" x2="24.7" y2="331.4" stroke="#333" stroke-width="0.8"/>
<text x="21.2" y="333.4" class="tk" text-anchor="end">−100</text>
<line x1="22.7" y1="370.73" x2="24.7" y2="370.73" stroke="#333" stroke-width="0.8"/>
<text x="21.2" y="372.73" class="tk" text-anchor="end">−150</text>
<text x="108.1" y="393" class="at" text-anchor="middle">PC1 (Var = 20.4%)</text>
<text transform="translate(6.8 294.7) rotate(-90)" class="at" text-anchor="middle">PC2 (Var = 6.9%)</text>
<text x="0.3" y="209.2" class="pl">d</text>
<circle cx="31.5" cy="246.9" r="1.9" fill="#ff1414"/>
<circle cx="43.6" cy="252.9" r="1.9" fill="#ff1414"/>
<circle cx="50.4" cy="250.2" r="1.9" fill="#ff1414"/>
<circle cx="65.8" cy="260" r="1.9" fill="#ff1414"/>
<circle cx="71.7" cy="260.5" r="1.9" fill="#ff1414"/>
<circle cx="76.1" cy="252.5" r="1.9" fill="#ff1414"/>
<circle cx="97.1" cy="249" r="1.9" fill="#ff1414"/>
<circle cx="120.7" cy="218.8" r="1.9" fill="#ff1414"/>
<circle cx="144.6" cy="221.5" r="1.9" fill="#ff1414"/>
<circle cx="112.4" cy="229.5" r="1.9" fill="#ff1414"/>
<circle cx="113.3" cy="238.9" r="1.9" fill="#ff1414"/>
<circle cx="105.3" cy="256.6" r="1.9" fill="#ff1414"/>
<circle cx="183.2" cy="231.6" r="1.9" fill="#1414ff"/>
<circle cx="183.7" cy="240.8" r="1.9" fill="#1414ff"/>
<circle cx="169.9" cy="240.4" r="1.9" fill="#1414ff"/>
<circle cx="164.3" cy="245.2" r="1.9" fill="#1414ff"/>
<circle cx="155.2" cy="250.2" r="1.9" fill="#1414ff"/>
<circle cx="160.5" cy="251.3" r="1.9" fill="#1414ff"/>
<circle cx="168.5" cy="253.2" r="1.9" fill="#1414ff"/>
<circle cx="151.4" cy="258.8" r="1.9" fill="#1414ff"/>
<circle cx="155.7" cy="258.2" r="1.9" fill="#1414ff"/>
<circle cx="148.4" cy="263.4" r="1.9" fill="#1414ff"/>
<circle cx="152.6" cy="268.8" r="1.9" fill="#1414ff"/>
<circle cx="141.4" cy="371.4" r="1.9" fill="#1414ff"/>
<ellipse cx="89.8" cy="240.9" rx="64" ry="21.5" transform="rotate(-12.45 89.8 240.9)" fill="none" stroke="#000" stroke-width="1.55"/>
<ellipse cx="163.1" cy="251.6" rx="32.4" ry="15.5" transform="rotate(-40.2 163.1 251.6)" fill="none" stroke="#000" stroke-width="1.55"/>
<rect x="24.7" y="211.2" width="166.8" height="167" fill="none" stroke="#666666" stroke-width="1"/>
<g>
<line x1="250.56" y1="211.3" x2="250.56" y2="377.4" stroke="#f5f5f5" stroke-width="0.7"/>
<line x1="293.29" y1="211.3" x2="293.29" y2="377.4" stroke="#f5f5f5" stroke-width="0.7"/>
<line x1="336.01" y1="211.3" x2="336.01" y2="377.4" stroke="#f5f5f5" stroke-width="0.7"/>
<line x1="378.74" y1="211.3" x2="378.74" y2="377.4" stroke="#f5f5f5" stroke-width="0.7"/>
<line x1="225.6" y1="225.07" x2="391.5" y2="225.07" stroke="#f5f5f5" stroke-width="0.7"/>
<line x1="225.6" y1="281.62" x2="391.5" y2="281.62" stroke="#f5f5f5" stroke-width="0.7"/>
<line x1="225.6" y1="338.17" x2="391.5" y2="338.17" stroke="#f5f5f5" stroke-width="0.7"/>
<line x1="229.2" y1="211.3" x2="229.2" y2="377.4" stroke="#eeeeee" stroke-width="1"/>
<line x1="271.92" y1="211.3" x2="271.92" y2="377.4" stroke="#eeeeee" stroke-width="1"/>
<line x1="314.65" y1="211.3" x2="314.65" y2="377.4" stroke="#eeeeee" stroke-width="1"/>
<line x1="357.38" y1="211.3" x2="357.38" y2="377.4" stroke="#eeeeee" stroke-width="1"/>
<line x1="225.6" y1="253.35" x2="391.5" y2="253.35" stroke="#eeeeee" stroke-width="1"/>
<line x1="225.6" y1="309.9" x2="391.5" y2="309.9" stroke="#eeeeee" stroke-width="1"/>
<line x1="225.6" y1="366.45" x2="391.5" y2="366.45" stroke="#eeeeee" stroke-width="1"/>
</g>
<line x1="229.2" y1="377.4" x2="229.2" y2="379.4" stroke="#333" stroke-width="0.8"/>
<text x="229.2" y="385.4" class="tk" text-anchor="middle">−100</text>
<line x1="271.92" y1="377.4" x2="271.92" y2="379.4" stroke="#333" stroke-width="0.8"/>
<text x="271.92" y="385.4" class="tk" text-anchor="middle">−50</text>
<line x1="314.65" y1="377.4" x2="314.65" y2="379.4" stroke="#333" stroke-width="0.8"/>
<text x="314.65" y="385.4" class="tk" text-anchor="middle">0</text>
<line x1="357.38" y1="377.4" x2="357.38" y2="379.4" stroke="#333" stroke-width="0.8"/>
<text x="357.38" y="385.4" class="tk" text-anchor="middle">50</text>
<line x1="223.6" y1="253.35" x2="225.6" y2="253.35" stroke="#333" stroke-width="0.8"/>
<text x="222.1" y="255.35" class="tk" text-anchor="end">50</text>
<line x1="223.6" y1="309.9" x2="225.6" y2="309.9" stroke="#333" stroke-width="0.8"/>
<text x="222.1" y="311.9" class="tk" text-anchor="end">0</text>
<line x1="223.6" y1="366.45" x2="225.6" y2="366.45" stroke="#333" stroke-width="0.8"/>
<text x="222.1" y="368.45" class="tk" text-anchor="end">−50</text>
<text x="308.55" y="392.5" class="at" text-anchor="middle">PC1 (Var = 17.9%)</text>
<text transform="translate(210.6 294.35) rotate(-90)" class="at" text-anchor="middle">PC2 (Var = 6.6%)</text>
<text x="204" y="209.5" class="pl">e</text>
<path d="M301.7 271.74L304.2 276.04L299.2 276.04Z" fill="#1414ff"/>
<path d="M263.4 290.03L265.9 294.33L260.9 294.33Z" fill="#ff1414"/>
<path d="M269.2 289.24L271.7 293.54L266.7 293.54Z" fill="#1414ff"/>
<path d="M278.2 293.24L280.7 297.54L275.7 297.54Z" fill="#ff1414"/>
<path d="M285.1 292.74L287.6 297.04L282.6 297.04Z" fill="#ff1414"/>
<path d="M285.4 296.94L287.9 301.24L282.9 301.24Z" fill="#ff1414"/>
<path d="M377.5 216.13L380 220.44L375 220.44Z" fill="#1414ff"/>
<path d="M354.5 253.63L357 257.94L352 257.94Z" fill="#ff1414"/>
<path d="M326 263.13L328.5 267.44L323.5 267.44Z" fill="#1414ff"/>
<path d="M334.3 260.13L336.8 264.44L331.8 264.44Z" fill="#1414ff"/>
<path d="M343.1 262.44L345.6 266.74L340.6 266.74Z" fill="#ff1414"/>
<path d="M254.5 303.83L257 308.13L252 308.13Z" fill="#ff1414"/>
<path d="M237.4 319.83L239.9 324.13L234.9 324.13Z" fill="#ff1414"/>
<path d="M232.9 322.74L235.4 327.04L230.4 327.04Z" fill="#ff1414"/>
<path d="M262.7 319.74L265.2 324.04L260.2 324.04Z" fill="#ff1414"/>
<path d="M260.1 363.24L262.6 367.54L257.6 367.54Z" fill="#ff1414"/>
<path d="M349.2 323.53L351.7 327.83L346.7 327.83Z" fill="#1414ff"/>
<path d="M383.7 333.33L386.2 337.63L381.2 337.63Z" fill="#1414ff"/>
<path d="M368.5 338.33L371 342.63L366 342.63Z" fill="#1414ff"/>
<path d="M352.2 344.33L354.7 348.63L349.7 348.63Z" fill="#1414ff"/>
<path d="M370.8 344.83L373.3 349.13L368.3 349.13Z" fill="#1414ff"/>
<path d="M377.5 344.33L380 348.63L375 348.63Z" fill="#1414ff"/>
<path d="M358.7 357.53L361.2 361.83L356.2 361.83Z" fill="#1414ff"/>
<path d="M326.8 367.33L329.3 371.63L324.3 371.63Z" fill="#ff1414"/>
<ellipse cx="293.7" cy="305.3" rx="83.5" ry="42.3" transform="rotate(-43 293.7 305.3)" fill="none" stroke="#000" stroke-width="1.55"/>
<ellipse cx="344.2" cy="312.5" rx="72.7" ry="27.3" transform="rotate(57.6 344.2 312.5)" fill="none" stroke="#000" stroke-width="1.55"/>
<rect x="225.6" y="211.3" width="165.9" height="166.1" fill="none" stroke="#666666" stroke-width="1"/>
<g>
<line x1="447.5" y1="214.4" x2="447.5" y2="380.2" stroke="#f5f5f5" stroke-width="0.7"/>
<line x1="490.9" y1="214.4" x2="490.9" y2="380.2" stroke="#f5f5f5" stroke-width="0.7"/>
<line x1="534.3" y1="214.4" x2="534.3" y2="380.2" stroke="#f5f5f5" stroke-width="0.7"/>
<line x1="577.7" y1="214.4" x2="577.7" y2="380.2" stroke="#f5f5f5" stroke-width="0.7"/>
<line x1="431.6" y1="237.49" x2="597" y2="237.49" stroke="#f5f5f5" stroke-width="0.7"/>
<line x1="431.6" y1="282.16" x2="597" y2="282.16" stroke="#f5f5f5" stroke-width="0.7"/>
<line x1="431.6" y1="326.84" x2="597" y2="326.84" stroke="#f5f5f5" stroke-width="0.7"/>
<line x1="431.6" y1="371.51" x2="597" y2="371.51" stroke="#f5f5f5" stroke-width="0.7"/>
<line x1="469.2" y1="214.4" x2="469.2" y2="380.2" stroke="#eeeeee" stroke-width="1"/>
<line x1="512.6" y1="214.4" x2="512.6" y2="380.2" stroke="#eeeeee" stroke-width="1"/>
<line x1="556" y1="214.4" x2="556" y2="380.2" stroke="#eeeeee" stroke-width="1"/>
<line x1="431.6" y1="215.15" x2="597" y2="215.15" stroke="#eeeeee" stroke-width="1"/>
<line x1="431.6" y1="259.82" x2="597" y2="259.82" stroke="#eeeeee" stroke-width="1"/>
<line x1="431.6" y1="304.5" x2="597" y2="304.5" stroke="#eeeeee" stroke-width="1"/>
<line x1="431.6" y1="349.18" x2="597" y2="349.18" stroke="#eeeeee" stroke-width="1"/>
</g>
<line x1="469.2" y1="380.2" x2="469.2" y2="382.2" stroke="#333" stroke-width="0.8"/>
<text x="469.2" y="388.2" class="tk" text-anchor="middle">−40</text>
<line x1="512.6" y1="380.2" x2="512.6" y2="382.2" stroke="#333" stroke-width="0.8"/>
<text x="512.6" y="388.2" class="tk" text-anchor="middle">0</text>
<line x1="556" y1="380.2" x2="556" y2="382.2" stroke="#333" stroke-width="0.8"/>
<text x="556" y="388.2" class="tk" text-anchor="middle">40</text>
<line x1="429.6" y1="215.15" x2="431.6" y2="215.15" stroke="#333" stroke-width="0.8"/>
<text x="428.1" y="217.15" class="tk" text-anchor="end">100</text>
<line x1="429.6" y1="259.82" x2="431.6" y2="259.82" stroke="#333" stroke-width="0.8"/>
<text x="428.1" y="261.82" class="tk" text-anchor="end">50</text>
<line x1="429.6" y1="304.5" x2="431.6" y2="304.5" stroke="#333" stroke-width="0.8"/>
<text x="428.1" y="306.5" class="tk" text-anchor="end">0</text>
<line x1="429.6" y1="349.18" x2="431.6" y2="349.18" stroke="#333" stroke-width="0.8"/>
<text x="428.1" y="351.18" class="tk" text-anchor="end">−50</text>
<text x="514.3" y="394" class="at" text-anchor="middle">PC1 (Var = 9%)</text>
<text transform="translate(416.4 297.3) rotate(-90)" class="at" text-anchor="middle">PC3 (Var = 5.3%)</text>
<text x="409.6" y="209.8" class="pl">f</text>
<rect x="503.85" y="286.05" width="3.9" height="3.9" fill="#ff1414"/>
<rect x="494.75" y="219.65" width="3.9" height="3.9" fill="#1414ff"/>
<rect x="509.45" y="285.35" width="3.9" height="3.9" fill="#1414ff"/>
<rect x="512.55" y="283.85" width="3.9" height="3.9" fill="#1414ff"/>
<rect x="514.25" y="292.95" width="3.9" height="3.9" fill="#1414ff"/>
<rect x="532.85" y="263.85" width="3.9" height="3.9" fill="#1414ff"/>
<rect x="544.65" y="278.95" width="3.9" height="3.9" fill="#1414ff"/>
<rect x="531.75" y="286.05" width="3.9" height="3.9" fill="#1414ff"/>
<rect x="556.75" y="296.35" width="3.9" height="3.9" fill="#1414ff"/>
<rect x="558.25" y="306.55" width="3.9" height="3.9" fill="#1414ff"/>
<rect x="584.75" y="318.75" width="3.9" height="3.9" fill="#1414ff"/>
<rect x="587.35" y="319.85" width="3.9" height="3.9" fill="#1414ff"/>
<rect x="586.25" y="323.15" width="3.9" height="3.9" fill="#1414ff"/>
<rect x="511.65" y="303.95" width="3.9" height="3.9" fill="#ff1414"/>
<rect x="524.05" y="370.85" width="3.9" height="3.9" fill="#ff1414"/>
<rect x="436.95" y="307.25" width="3.9" height="3.9" fill="#ff1414"/>
<rect x="438.15" y="307.75" width="3.9" height="3.9" fill="#ff1414"/>
<rect x="448.75" y="316.05" width="3.9" height="3.9" fill="#ff1414"/>
<rect x="461.15" y="308.75" width="3.9" height="3.9" fill="#ff1414"/>
<rect x="483.15" y="303.15" width="3.9" height="3.9" fill="#ff1414"/>
<rect x="485.85" y="309.25" width="3.9" height="3.9" fill="#ff1414"/>
<rect x="490.95" y="313.35" width="3.9" height="3.9" fill="#ff1414"/>
<rect x="486.85" y="317.55" width="3.9" height="3.9" fill="#ff1414"/>
<rect x="471.05" y="343.75" width="3.9" height="3.9" fill="#ff1414"/>
<ellipse cx="483.5" cy="318.6" rx="68.6" ry="37.4" transform="rotate(55.6 483.5 318.6)" fill="none" stroke="#000" stroke-width="1.55"/>
<ellipse cx="539" cy="278.3" rx="73.6" ry="30" transform="rotate(50.5 539 278.3)" fill="none" stroke="#000" stroke-width="1.55"/>
<rect x="431.6" y="214.4" width="165.4" height="165.8" fill="none" stroke="#666666" stroke-width="1"/>
<text x="612.6" y="29.9" class="lt">Group</text>
<circle cx="615.4" cy="40.7" r="3.3" fill="#ff1414"/>
<text x="621.6" y="43.4" class="lg">SARS-CoV-2</text>
<circle cx="615.4" cy="57.6" r="3.3" fill="#1414ff"/>
<text x="622.3" y="59.9" class="lg">Mock</text>
<text x="613" y="83.2" class="lt">ROIs</text>
<circle cx="615.8" cy="95.8" r="3.3" fill="#000"/>
<text x="622.2" y="98" class="lg">Alveolar ROIs</text>
<path d="M615.8 108.2L619.6 114.8L612 114.8Z" fill="#000"/>
<text x="622.7" y="114.4" class="lg">Bronchiolar ROIs</text>
<rect x="612.5" y="125.2" width="6.6" height="6.3" fill="#000"/>
<text x="622.5" y="131.5" class="lg">Vascular ROIs</text>
<text x="0" y="440.8" class="pl">g</text>
<rect x="147.7" y="466.75" width="70.1" height="8.1" fill="#ff7f00"/>
<line x1="143.5" y1="470.8" x2="147.7" y2="470.8" stroke="#000" stroke-width="1.35"/>
<text x="142.7" y="473.2" class="bl" text-anchor="end">INFLAMMATORY_RESPONSE</text>
<rect x="147.7" y="478.97" width="122" height="8.1" fill="#ffc185"/>
<line x1="143.5" y1="483.02" x2="147.7" y2="483.02" stroke="#000" stroke-width="1.35"/>
<text x="142.7" y="485.42" class="bl" text-anchor="end">INTERFERON_GAMMA_RESPONSE</text>
<rect x="147.7" y="491.19" width="118.3" height="8.1" fill="#ffc185"/>
<line x1="143.5" y1="495.24" x2="147.7" y2="495.24" stroke="#000" stroke-width="1.35"/>
<text x="142.7" y="497.64" class="bl" text-anchor="end">INTERFERON_ALPHA_RESPONSE</text>
<rect x="147.7" y="503.41" width="82.5" height="8.1" fill="#ffc185"/>
<line x1="143.5" y1="507.46" x2="147.7" y2="507.46" stroke="#000" stroke-width="1.35"/>
<text x="142.7" y="509.86" class="bl" text-anchor="end">TNFA_SIGNALING_VIA_NFKB</text>
<rect x="147.7" y="515.63" width="48" height="8.1" fill="#a00000"/>
<line x1="143.5" y1="519.68" x2="147.7" y2="519.68" stroke="#000" stroke-width="1.35"/>
<text x="142.7" y="522.08" class="bl" text-anchor="end">TGF_BETA_SIGNALING</text>
<rect x="147.7" y="527.85" width="52.5" height="8.1" fill="#c46200"/>
<line x1="143.5" y1="531.9" x2="147.7" y2="531.9" stroke="#000" stroke-width="1.35"/>
<text x="142.7" y="534.3" class="bl" text-anchor="end">IL2_STAT5_SIGNALING</text>
<rect x="147.7" y="540.07" width="72.4" height="8.1" fill="#ffc185"/>
<line x1="143.5" y1="544.12" x2="147.7" y2="544.12" stroke="#000" stroke-width="1.35"/>
<text x="142.7" y="546.52" class="bl" text-anchor="end">IL6_JAK_STAT3_SIGNALING</text>
<rect x="147.7" y="552.29" width="48.5" height="8.1" fill="#a00000"/>
<line x1="143.5" y1="556.34" x2="147.7" y2="556.34" stroke="#000" stroke-width="1.35"/>
<text x="142.7" y="558.74" class="bl" text-anchor="end">COAGULATION</text>
<rect x="147.7" y="564.51" width="88.8" height="8.1" fill="#ffc185"/>
<line x1="143.5" y1="568.56" x2="147.7" y2="568.56" stroke="#000" stroke-width="1.35"/>
<text x="142.7" y="570.96" class="bl" text-anchor="end">COMPLEMENT</text>
<rect x="147.7" y="576.73" width="81.3" height="8.1" fill="#ffc185"/>
<line x1="143.5" y1="580.78" x2="147.7" y2="580.78" stroke="#000" stroke-width="1.35"/>
<text x="142.7" y="583.18" class="bl" text-anchor="end">APOPTOSIS</text>
<rect x="147.7" y="588.95" width="62.1" height="8.1" fill="#ff7f00"/>
<line x1="143.5" y1="593" x2="147.7" y2="593" stroke="#000" stroke-width="1.35"/>
<text x="142.7" y="595.4" class="bl" text-anchor="end">HYPOXIA</text>
<rect x="147.7" y="601.17" width="91.1" height="8.1" fill="#ffc185"/>
<line x1="143.5" y1="605.22" x2="147.7" y2="605.22" stroke="#000" stroke-width="1.35"/>
<text x="142.7" y="607.62" class="bl" text-anchor="end">REACTIVE_OXYGEN_SPECIES_PATHWAY</text>
<rect x="147.7" y="613.39" width="74.3" height="8.1" fill="#ffc185"/>
<line x1="143.5" y1="617.44" x2="147.7" y2="617.44" stroke="#000" stroke-width="1.35"/>
<text x="142.7" y="619.84" class="bl" text-anchor="end">P53_PATHWAY</text>
<rect x="147.7" y="625.61" width="42.2" height="8.1" fill="#000000"/>
<line x1="143.5" y1="629.66" x2="147.7" y2="629.66" stroke="#000" stroke-width="1.35"/>
<text x="142.7" y="632.06" class="bl" text-anchor="end">ANGIOGENESIS</text>
<line x1="147.7" y1="462.2" x2="147.7" y2="638.1" stroke="#000" stroke-width="1.4"/>
<line x1="147.1" y1="637.5" x2="288" y2="637.5" stroke="#000" stroke-width="1.4"/>
<line x1="147.7" y1="637.5" x2="147.7" y2="641.3" stroke="#000" stroke-width="1.3"/>
<text x="147.7" y="649.7" class="bx" text-anchor="middle">0</text>
<line x1="182.65" y1="637.5" x2="182.65" y2="641.3" stroke="#000" stroke-width="1.3"/>
<text x="182.65" y="649.7" class="bx" text-anchor="middle">1</text>
<line x1="217.6" y1="637.5" x2="217.6" y2="641.3" stroke="#000" stroke-width="1.3"/>
<text x="217.6" y="649.7" class="bx" text-anchor="middle">2</text>
<line x1="252.55" y1="637.5" x2="252.55" y2="641.3" stroke="#000" stroke-width="1.3"/>
<text x="252.55" y="649.7" class="bx" text-anchor="middle">3</text>
<line x1="287.5" y1="637.5" x2="287.5" y2="641.3" stroke="#000" stroke-width="1.3"/>
<text x="287.5" y="649.7" class="bx" text-anchor="middle">4</text>
<text x="217.6" y="659" class="bt" text-anchor="middle" style="font-size:7.4px">NES</text>
<text x="217.3" y="451.2" class="bt" text-anchor="middle" style="font-size:8.4px">Alveolar ROIs</text>
<rect x="299.2" y="464.15" width="32.6" height="9.3" fill="#000000"/>
<line x1="295" y1="468.8" x2="299.2" y2="468.8" stroke="#000" stroke-width="1.35"/>
<rect x="299.2" y="476.47" width="72.9" height="9.3" fill="#ffc185"/>
<line x1="295" y1="481.12" x2="299.2" y2="481.12" stroke="#000" stroke-width="1.35"/>
<rect x="299.2" y="488.79" width="87.2" height="9.3" fill="#ffc185"/>
<line x1="295" y1="493.44" x2="299.2" y2="493.44" stroke="#000" stroke-width="1.35"/>
<rect x="299.2" y="501.11" width="45.8" height="9.3" fill="#000000"/>
<line x1="295" y1="505.76" x2="299.2" y2="505.76" stroke="#000" stroke-width="1.35"/>
<rect x="299.2" y="513.43" width="61.4" height="9.3" fill="#ff7f00"/>
<line x1="295" y1="518.08" x2="299.2" y2="518.08" stroke="#000" stroke-width="1.35"/>
<rect x="299.2" y="525.75" width="42" height="9.3" fill="#000000"/>
<line x1="295" y1="530.4" x2="299.2" y2="530.4" stroke="#000" stroke-width="1.35"/>
<rect x="299.2" y="538.07" width="36.9" height="9.3" fill="#000000"/>
<line x1="295" y1="542.72" x2="299.2" y2="542.72" stroke="#000" stroke-width="1.35"/>
<rect x="299.2" y="550.39" width="36.4" height="9.3" fill="#000000"/>
<line x1="295" y1="555.04" x2="299.2" y2="555.04" stroke="#000" stroke-width="1.35"/>
<rect x="299.2" y="562.71" width="53.7" height="9.3" fill="#c46200"/>
<line x1="295" y1="567.36" x2="299.2" y2="567.36" stroke="#000" stroke-width="1.35"/>
<rect x="299.2" y="575.03" width="56.8" height="9.3" fill="#c46200"/>
<line x1="295" y1="579.68" x2="299.2" y2="579.68" stroke="#000" stroke-width="1.35"/>
<rect x="299.2" y="587.35" width="55.1" height="9.3" fill="#c46200"/>
<line x1="295" y1="592" x2="299.2" y2="592" stroke="#000" stroke-width="1.35"/>
<rect x="299.2" y="599.67" width="86" height="9.3" fill="#ffc185"/>
<line x1="295" y1="604.32" x2="299.2" y2="604.32" stroke="#000" stroke-width="1.35"/>
<rect x="299.2" y="611.99" width="73.6" height="9.3" fill="#ffc185"/>
<line x1="295" y1="616.64" x2="299.2" y2="616.64" stroke="#000" stroke-width="1.35"/>
<rect x="299.2" y="624.31" width="47.9" height="9.3" fill="#000000"/>
<line x1="295" y1="628.96" x2="299.2" y2="628.96" stroke="#000" stroke-width="1.35"/>
<line x1="299.2" y1="459.9" x2="299.2" y2="637.3" stroke="#000" stroke-width="1.4"/>
<line x1="298.6" y1="636.7" x2="441" y2="636.7" stroke="#000" stroke-width="1.4"/>
<line x1="299.2" y1="636.7" x2="299.2" y2="640.5" stroke="#000" stroke-width="1.3"/>
<text x="299.2" y="648.9" class="bx" text-anchor="middle">0</text>
<line x1="334.4" y1="636.7" x2="334.4" y2="640.5" stroke="#000" stroke-width="1.3"/>
<text x="334.4" y="648.9" class="bx" text-anchor="middle">1</text>
<line x1="369.6" y1="636.7" x2="369.6" y2="640.5" stroke="#000" stroke-width="1.3"/>
<text x="369.6" y="648.9" class="bx" text-anchor="middle">2</text>
<line x1="404.8" y1="636.7" x2="404.8" y2="640.5" stroke="#000" stroke-width="1.3"/>
<text x="404.8" y="648.9" class="bx" text-anchor="middle">3</text>
<line x1="440" y1="636.7" x2="440" y2="640.5" stroke="#000" stroke-width="1.3"/>
<text x="440" y="648.9" class="bx" text-anchor="middle">4</text>
<text x="369.6" y="658.2" class="bt" text-anchor="middle" style="font-size:7.4px">NES</text>
<text x="369.55" y="449" class="bt" text-anchor="middle" style="font-size:8.65px">Bronchiolar ROIs</text>
<rect x="451" y="465.1" width="56.9" height="8.2" fill="#ff7f00"/>
<line x1="446.8" y1="469.2" x2="451" y2="469.2" stroke="#000" stroke-width="1.35"/>
<rect x="451" y="477.31" width="106.8" height="8.2" fill="#ffc185"/>
<line x1="446.8" y1="481.41" x2="451" y2="481.41" stroke="#000" stroke-width="1.35"/>
<rect x="451" y="489.52" width="105.2" height="8.2" fill="#ffc185"/>
<line x1="446.8" y1="493.62" x2="451" y2="493.62" stroke="#000" stroke-width="1.35"/>
<rect x="451" y="501.73" width="75" height="8.2" fill="#ffc185"/>
<line x1="446.8" y1="505.83" x2="451" y2="505.83" stroke="#000" stroke-width="1.35"/>
<rect x="451" y="513.94" width="60.2" height="8.2" fill="#ff7f00"/>
<line x1="446.8" y1="518.04" x2="451" y2="518.04" stroke="#000" stroke-width="1.35"/>
<rect x="451" y="526.15" width="50.4" height="8.2" fill="#c46200"/>
<line x1="446.8" y1="530.25" x2="451" y2="530.25" stroke="#000" stroke-width="1.35"/>
<rect x="451" y="538.36" width="60.2" height="8.2" fill="#ff7f00"/>
<line x1="446.8" y1="542.46" x2="451" y2="542.46" stroke="#000" stroke-width="1.35"/>
<rect x="451" y="550.57" width="51.1" height="8.2" fill="#c46200"/>
<line x1="446.8" y1="554.67" x2="451" y2="554.67" stroke="#000" stroke-width="1.35"/>
<rect x="451" y="562.78" width="77.5" height="8.2" fill="#ffc185"/>
<line x1="446.8" y1="566.88" x2="451" y2="566.88" stroke="#000" stroke-width="1.35"/>
<rect x="451" y="574.99" width="65.8" height="8.2" fill="#ffc185"/>
<line x1="446.8" y1="579.09" x2="451" y2="579.09" stroke="#000" stroke-width="1.35"/>
<rect x="451" y="587.2" width="59.7" height="8.2" fill="#ff7f00"/>
<line x1="446.8" y1="591.3" x2="451" y2="591.3" stroke="#000" stroke-width="1.35"/>
<rect x="451" y="599.41" width="66.8" height="8.2" fill="#ffc185"/>
<line x1="446.8" y1="603.51" x2="451" y2="603.51" stroke="#000" stroke-width="1.35"/>
<rect x="451" y="611.62" width="63.9" height="8.2" fill="#ff7f00"/>
<line x1="446.8" y1="615.72" x2="451" y2="615.72" stroke="#000" stroke-width="1.35"/>
<rect x="451" y="623.83" width="68.6" height="8.2" fill="#ffc185"/>
<line x1="446.8" y1="627.93" x2="451" y2="627.93" stroke="#000" stroke-width="1.35"/>
<line x1="451" y1="460.6" x2="451" y2="636.6" stroke="#000" stroke-width="1.4"/>
<line x1="450.4" y1="636" x2="591.5" y2="636" stroke="#000" stroke-width="1.4"/>
<line x1="451" y1="636" x2="451" y2="639.8" stroke="#000" stroke-width="1.3"/>
<text x="451" y="648.2" class="bx" text-anchor="middle">0</text>
<line x1="486" y1="636" x2="486" y2="639.8" stroke="#000" stroke-width="1.3"/>
<text x="486" y="648.2" class="bx" text-anchor="middle">1</text>
<line x1="521" y1="636" x2="521" y2="639.8" stroke="#000" stroke-width="1.3"/>
<text x="521" y="648.2" class="bx" text-anchor="middle">2</text>
<line x1="556" y1="636" x2="556" y2="639.8" stroke="#000" stroke-width="1.3"/>
<text x="556" y="648.2" class="bx" text-anchor="middle">3</text>
<line x1="591" y1="636" x2="591" y2="639.8" stroke="#000" stroke-width="1.3"/>
<text x="591" y="648.2" class="bx" text-anchor="middle">4</text>
<text x="521" y="657.5" class="bt" text-anchor="middle" style="font-size:7.4px">NES</text>
<text x="520.55" y="449" class="bt" text-anchor="middle" style="font-size:8.45px">Vascular ROIs</text>
<defs><linearGradient id="pg" x1="0" y1="0" x2="0" y2="1"><stop offset="0" stop-color="#a00000"/><stop offset="0.33" stop-color="#c05a00"/><stop offset="0.66" stop-color="#ff8000"/><stop offset="1" stop-color="#ffc58a"/></linearGradient></defs>
<text x="602.9" y="468" class="bt" style="font-size:7.3px">Adj p-value</text>
<rect x="602" y="480" width="8.8" height="44.2" fill="url(#pg)"/>
<text x="617.9" y="483.2" class="bt" style="font-size:7.2px">0.05</text>
<text x="617.9" y="496.9" class="bt" style="font-size:7.2px">0.01</text>
<text x="617.9" y="511.8" class="bt" style="font-size:7.2px">0.001</text>
<text x="614.9" y="527.5" class="bt" style="font-size:7.2px">&lt;0.0001</text>
</svg></body></html>
